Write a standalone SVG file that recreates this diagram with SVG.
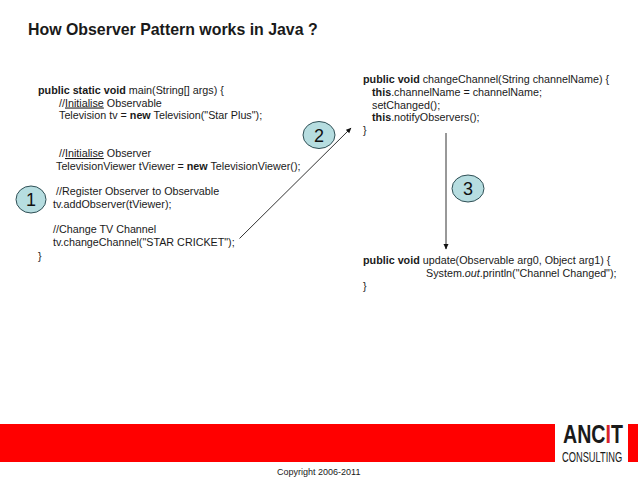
<svg xmlns="http://www.w3.org/2000/svg" width="638" height="478" viewBox="0 0 638 478">
<style>
text{font-family:"Liberation Sans",Arial,sans-serif;fill:#1a1a1a}
.c{font-size:10.750px}
.b{font-weight:bold}
.n{font-size:18px;text-anchor:middle;fill:#111}
.o{fill:#b6dde0;stroke:#2f4f55;stroke-width:1}
.l{stroke:#333;stroke-width:1;fill:none;marker-end:url(#a)}
</style>
<defs><marker id="a" markerWidth="6" markerHeight="6" refX="5" refY="2.500" orient="auto" markerUnits="userSpaceOnUse"><path d="M0 0L5.500 2.500L0 5Z" fill="#111"/></marker></defs>
<rect width="638" height="478" fill="#fff"/>
<text x="28" y="35" font-size="15.900" font-weight="bold">How Observer Pattern works in Java ?</text>
<g id="main-code" class="c">
<text x="38" y="94"><tspan class="b">public static void</tspan> main(String[] args) {</text>
<text x="59" y="106.500">//<tspan text-decoration="underline">Initialise</tspan> Observable</text>
<text x="59" y="119">Television tv = <tspan class="b">new</tspan> Television("Star Plus");</text>
<text x="59" y="157">//<tspan text-decoration="underline">Initialise</tspan> Observer</text>
<text x="56" y="170">TelevisionViewer tViewer = <tspan class="b">new</tspan> TelevisionViewer();</text>
<text x="56" y="195">//Register Observer to Observable</text>
<text x="53" y="208">tv.addObserver(tViewer);</text>
<text x="53" y="233">//Change TV Channel</text>
<text x="53" y="246">tv.changeChannel("STAR CRICKET");</text>
<text x="38" y="260">}</text>
</g>
<g id="change-channel" class="c">
<text x="363" y="83"><tspan class="b">public void</tspan> changeChannel(String channelName) {</text>
<text x="372" y="96"><tspan class="b">this</tspan>.channelName = channelName;</text>
<text x="372" y="109">setChanged();</text>
<text x="372" y="121"><tspan class="b">this</tspan>.notifyObservers();</text>
<text x="363" y="134">}</text>
</g>
<g id="update" class="c">
<text x="363" y="264"><tspan class="b">public void</tspan> update(Observable arg0, Object arg1) {</text>
<text x="426" y="277">System.<tspan font-style="italic">out</tspan>.println("Channel Changed");</text>
<text x="363" y="290">}</text>
</g>
<g id="connectors">
<line class="l" x1="239.500" y1="238.500" x2="351" y2="128"/>
<line class="l" x1="446" y1="133" x2="446" y2="249"/>
</g>
<g id="node-1"><ellipse class="o" cx="31" cy="199.500" rx="15" ry="13.500"/><text class="n" x="31" y="206">1</text></g>
<g id="node-2"><ellipse class="o" cx="319" cy="135" rx="16" ry="13.500"/><text class="n" x="319" y="141.500">2</text></g>
<g id="node-3"><ellipse class="o" cx="468" cy="188.500" rx="16" ry="13.500"/><text class="n" x="468" y="195">3</text></g>
<g id="footer">
<rect x="0" y="424" width="555" height="38" fill="#ff0000"/>
<rect x="628" y="424" width="10" height="38" fill="#ff0000"/>
<text transform="translate(563 442.500) scale(1 1.300)" font-size="19.600" font-weight="bold" fill="#222">ANC<tspan fill="#d8232a">I</tspan>T</text>
<text transform="translate(562 461.500) scale(1 1.500)" font-size="9.300" fill="#666">CONSULTING</text>
<text x="277" y="475" font-size="9">Copyright 2006-2011</text>
</g>
</svg>
